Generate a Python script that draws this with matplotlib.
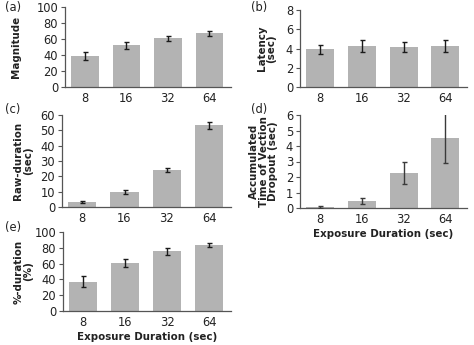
import matplotlib
matplotlib.use("Agg")
import matplotlib.pyplot as plt
import numpy as np

plt.rcParams['font.family'] = ['DejaVu Sans']

durations = ["8", "16", "32", "64"]

magnitude = [39, 52, 61, 67]
magnitude_err = [5, 4, 3, 3]

latency = [3.9, 4.25, 4.15, 4.25]
latency_err = [0.45, 0.65, 0.55, 0.6]

raw_duration = [3.0, 9.8, 24.2, 53.3]
raw_duration_err = [0.6, 1.0, 1.2, 2.2]

dropout = [0.07, 0.45, 2.27, 4.5]
dropout_err = [0.05, 0.2, 0.72, 1.6]

pct_duration = [37, 60.5, 75.5, 83.5]
pct_duration_err = [7, 5, 4, 3]

W, H = 474, 345
fig = plt.figure(figsize=(W / 100, H / 100), dpi=100)


def px_axes(left, right, top, bottom):
    return fig.add_axes([left / W, 1 - bottom / H, (right - left) / W, (bottom - top) / H])


BAR = "#b3b3b3"
AXC = "#555555"
FS_TICK = 8.3
FS_LAB = 7.4


def panel(ax, vals, errs, ylim, yticks, ylabel, tag, tag_xy, ylabel_x,
          xlabel=None, ecolor="#1a1a1a"):
    x = np.arange(len(durations))
    ax.bar(x, vals, width=0.67, color=BAR, zorder=2)
    ax.errorbar(x, vals, yerr=errs, fmt="none", ecolor=ecolor,
                elinewidth=1.0, capsize=1.8, capthick=1.0, zorder=3)
    ax.set_xlim(-0.48, 3.52)
    ax.set_ylim(*ylim)
    ax.set_yticks(yticks)
    ax.set_xticks(x)
    ax.set_xticklabels(durations)
    for s in ("top", "right"):
        ax.spines[s].set_visible(False)
    for s in ("left", "bottom"):
        ax.spines[s].set_color(AXC)
        ax.spines[s].set_linewidth(0.9)
    ax.tick_params(axis="y", length=3, width=0.8, color=AXC, labelsize=FS_TICK,
                   pad=2, labelcolor="#222222")
    ax.tick_params(axis="x", length=0, labelsize=FS_TICK, pad=3.5,
                   labelcolor="#222222")
    ax.set_ylabel(ylabel, fontsize=FS_LAB, fontweight="bold", linespacing=0.95,
                  color="#222222")
    ax.yaxis.set_label_coords(ylabel_x, 0.5)
    if xlabel:
        ax.set_xlabel(xlabel, fontsize=FS_LAB, fontweight="bold", labelpad=2,
                      color="#222222")
    fig.text(tag_xy[0] / W, 1 - tag_xy[1] / H, tag, fontsize=FS_TICK,
             ha="left", va="center", color="#222222")


ax_a = px_axes(65, 231, 7, 87)
panel(ax_a, magnitude, magnitude_err, (0, 100), range(0, 101, 20),
      "Magnitude", "(a)", (5, 7), -0.265)

ax_b = px_axes(300, 467, 10, 87)
panel(ax_b, latency, latency_err, (0, 8), range(0, 9, 2),
      "Latency\n(sec)", "(b)", (251, 7), -0.14)

ax_c = px_axes(62, 231, 115, 207)
panel(ax_c, raw_duration, raw_duration_err, (0, 60), range(0, 61, 10),
      "Raw-duration\n(sec)", "(c)", (5, 109), -0.172)

ax_d = px_axes(300, 467, 115, 208)
panel(ax_d, dropout, dropout_err, (0, 6), range(0, 7, 1),
      "Accumulated\nTime of Vection\nDropout (sec)", "(d)", (251, 109), -0.13,
      xlabel="Exposure Duration (sec)", ecolor="#3a3a3a")

ax_e = px_axes(63, 231, 232, 311)
panel(ax_e, pct_duration, pct_duration_err, (0, 100), range(0, 101, 20),
      "%-duration\n(%)", "(e)", (5, 228), -0.18,
      xlabel="Exposure Duration (sec)")

fig.savefig("out.png", dpi=100)
